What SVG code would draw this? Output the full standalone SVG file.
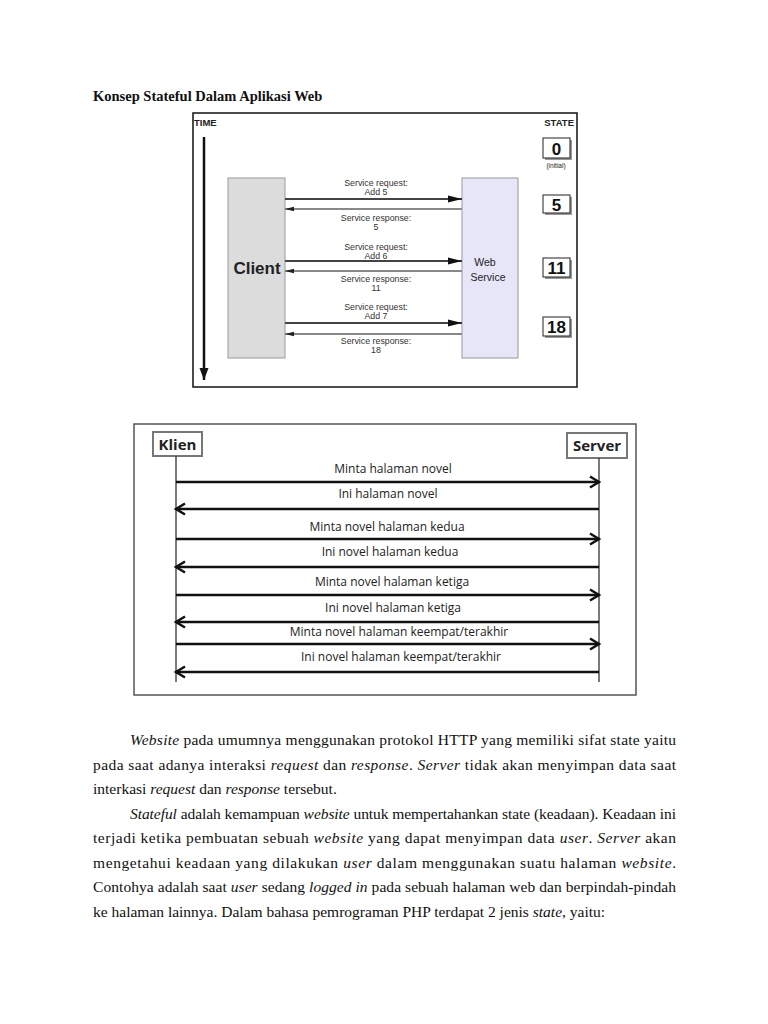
<svg xmlns="http://www.w3.org/2000/svg" width="768" height="1024" viewBox="0 0 768 1024">
<defs>
<style>
.title{font-family:"Liberation Serif","Times New Roman",serif;font-weight:bold;font-size:14.5px;fill:#111}
.para{font-family:"Liberation Serif","Times New Roman",serif;font-size:15.5px;fill:#111}
.it{font-style:italic}
.sans{font-family:"Liberation Sans",Arial,sans-serif;fill:#222}
.lbl1{font-family:"Liberation Sans",Arial,sans-serif;font-size:8.8px;fill:#333;text-anchor:middle}
.req{stroke:#444;stroke-width:2;fill:none}
.resp{stroke:#888;stroke-width:2;fill:none}
.stbox{fill:#fff;stroke:#222;stroke-width:1}
.stshadow{fill:#999}
.stnum{font-family:"Liberation Sans",Arial,sans-serif;font-weight:bold;font-size:17px;fill:#111;text-anchor:middle}
.lbl2{font-family:"Open Sans","Liberation Sans",sans-serif;font-size:12px;fill:#222;text-anchor:middle}
.msg{stroke:#111;stroke-width:2.5;fill:none}
.life{stroke:#333;stroke-width:1.3}
.actor{fill:#fff;stroke:#777;stroke-width:2}
.actortxt{font-family:"Open Sans","Liberation Sans",sans-serif;font-weight:bold;font-size:15px;fill:#222;text-anchor:middle}
</style>
<marker id="reqHead" markerUnits="userSpaceOnUse" markerWidth="14" markerHeight="10" viewBox="0 0 14 10" refX="14" refY="5" orient="auto"><path d="M0,1.5 L14,5 L0,8.5 Z" fill="#111"/></marker>
<marker id="respHead" markerUnits="userSpaceOnUse" markerWidth="9" markerHeight="6" viewBox="0 0 9 6" refX="9" refY="3" orient="auto"><path d="M0,0.8 L9,3 L0,5.2 Z" fill="#222"/></marker>
<marker id="timeHead" markerUnits="userSpaceOnUse" markerWidth="10" markerHeight="12" viewBox="0 0 10 12" refX="12" refY="5" orient="auto"><path d="M0,0.5 L12,5 L0,9.5 Z" fill="#111"/></marker>
<marker id="chev" markerUnits="userSpaceOnUse" markerWidth="16" markerHeight="16" viewBox="-2 -8 16 16" refX="11" refY="0" orient="auto" overflow="visible"><path d="M2,-5.5 L11,0 L2,5.5" fill="none" stroke="#111" stroke-width="2.5"/></marker>
</defs>
<rect x="0" y="0" width="768" height="1024" fill="#fff"/>

<text class="title" x="93" y="101">Konsep Stateful Dalam Aplikasi Web</text>

<!-- Diagram 1 -->
<g id="diagram1">
<rect x="193" y="113" width="384" height="274" fill="#fff" stroke="#111" stroke-width="1.5"/>
<text class="sans" x="194" y="126" font-size="9.5" font-weight="bold">TIME</text>
<text class="sans" x="574" y="126" font-size="9.5" font-weight="bold" text-anchor="end">STATE</text>
</g>
<g id="client">
<rect x="228" y="178" width="57" height="180" fill="#dcdcdc" stroke="#999" stroke-width="1"/>
<text class="sans" x="257" y="274" font-size="17" font-weight="bold" text-anchor="middle">Client</text>
</g>
<g id="webservice">
<rect x="462" y="178" width="56" height="180" fill="#e6e6f8" stroke="#999" stroke-width="1"/>
<text class="sans" x="485" y="266" font-size="10.5" text-anchor="middle">Web</text>
<text class="sans" x="488" y="281" font-size="10.5" text-anchor="middle">Service</text>
</g>
<g id="state0">
<rect class="stshadow" x="545" y="140" width="27" height="20"/>
<rect class="stbox" x="543" y="138" width="27" height="20"/>
<text class="stnum" x="556.5" y="155">0</text>
<text class="sans" x="556" y="168" font-size="6.5" text-anchor="middle">(initial)</text>
</g>
<g id="state5">
<rect class="stshadow" x="545" y="197" width="27" height="18"/>
<rect class="stbox" x="543" y="195" width="27" height="18"/>
<text class="stnum" x="556.5" y="210.5">5</text>
</g>
<g id="state11">
<rect class="stshadow" x="545" y="260" width="27" height="19"/>
<rect class="stbox" x="543" y="258" width="27" height="19"/>
<text class="stnum" x="556.5" y="274">11</text>
</g>
<g id="state18">
<rect class="stshadow" x="545" y="319" width="27" height="19"/>
<rect class="stbox" x="543" y="317" width="27" height="19"/>
<text class="stnum" x="556.5" y="333">18</text>
</g>
<g id="connectors1">
<line x1="204" y1="137" x2="204" y2="380" stroke="#111" stroke-width="2.5" marker-end="url(#timeHead)"/>
<line class="req" x1="285" y1="199" x2="462" y2="199" marker-end="url(#reqHead)"/>
<line class="resp" x1="462" y1="209" x2="285" y2="209" marker-end="url(#respHead)"/>
<line class="req" x1="285" y1="261" x2="462" y2="261" marker-end="url(#reqHead)"/>
<line class="resp" x1="462" y1="271" x2="285" y2="271" marker-end="url(#respHead)"/>
<line class="req" x1="285" y1="323" x2="462" y2="323" stroke="#777" marker-end="url(#reqHead)"/>
<line class="resp" x1="462" y1="334" x2="285" y2="334" marker-end="url(#respHead)"/>
<text class="lbl1" x="376" y="186">Service request:</text>
<text class="lbl1" x="376" y="195">Add 5</text>
<text class="lbl1" x="376" y="221">Service response:</text>
<text class="lbl1" x="376" y="230">5</text>
<text class="lbl1" x="376" y="249.5">Service request:</text>
<text class="lbl1" x="376" y="258.5">Add 6</text>
<text class="lbl1" x="376" y="282">Service response:</text>
<text class="lbl1" x="376" y="291">11</text>
<text class="lbl1" x="376" y="310">Service request:</text>
<text class="lbl1" x="376" y="319">Add 7</text>
<text class="lbl1" x="376" y="344">Service response:</text>
<text class="lbl1" x="376" y="353">18</text>
</g>

<!-- Diagram 2 -->
<g id="diagram2">
<rect x="134" y="424" width="502" height="271" fill="#fff" stroke="#555" stroke-width="1.5"/>
</g>
<g id="klien">
<rect class="actor" x="153" y="432" width="49" height="24"/>
<text class="actortxt" x="177.5" y="450">Klien</text>
</g>
<g id="server">
<rect class="actor" x="567" y="433" width="60" height="25"/>
<text class="actortxt" x="597" y="451">Server</text>
</g>
<g id="connectors2">
<line class="life" x1="176" y1="456" x2="176" y2="682"/>
<line class="life" x1="599" y1="458" x2="599" y2="682"/>
<line class="msg" x1="176" y1="482" x2="599" y2="482" marker-end="url(#chev)"/>
<line class="msg" x1="599" y1="509" x2="176" y2="509" marker-end="url(#chev)"/>
<line class="msg" x1="176" y1="539" x2="599" y2="539" marker-end="url(#chev)"/>
<line class="msg" x1="599" y1="567" x2="176" y2="567" marker-end="url(#chev)"/>
<line class="msg" x1="176" y1="595" x2="599" y2="595" marker-end="url(#chev)"/>
<line class="msg" x1="599" y1="622" x2="176" y2="622" marker-end="url(#chev)"/>
<line class="msg" x1="176" y1="644" x2="599" y2="644" marker-end="url(#chev)"/>
<line class="msg" x1="599" y1="672" x2="176" y2="672" marker-end="url(#chev)"/>
<text class="lbl2" x="393" y="473">Minta halaman novel</text>
<text class="lbl2" x="388" y="498">Ini halaman novel</text>
<text class="lbl2" x="387" y="531">Minta novel halaman kedua</text>
<text class="lbl2" x="390" y="556">Ini novel halaman kedua</text>
<text class="lbl2" x="392" y="586">Minta novel halaman ketiga</text>
<text class="lbl2" x="393" y="612">Ini novel halaman ketiga</text>
<text class="lbl2" x="399" y="636">Minta novel halaman keempat/terakhir</text>
<text class="lbl2" x="401" y="661">Ini novel halaman keempat/terakhir</text>
</g>

<!-- Paragraphs -->
<g id="body-text">
<text class="para" x="130" y="745" textLength="546" lengthAdjust="spacing"><tspan class="it">Website</tspan> pada umumnya menggunakan protokol HTTP yang memiliki sifat state yaitu</text>
<text class="para" x="93" y="770" textLength="583" lengthAdjust="spacing">pada saat adanya interaksi <tspan class="it">request</tspan> dan <tspan class="it">response</tspan>. <tspan class="it">Server</tspan> tidak akan menyimpan data saat</text>
<text class="para" x="93" y="794">interkasi <tspan class="it">request</tspan> dan <tspan class="it">response</tspan> tersebut.</text>
<text class="para" x="130" y="819" textLength="546" lengthAdjust="spacing"><tspan class="it">Stateful</tspan> adalah kemampuan <tspan class="it">website</tspan> untuk mempertahankan state (keadaan). Keadaan ini</text>
<text class="para" x="93" y="843" textLength="583" lengthAdjust="spacing">terjadi ketika pembuatan sebuah <tspan class="it">website</tspan> yang dapat menyimpan data <tspan class="it">user</tspan>. <tspan class="it">Server</tspan> akan</text>
<text class="para" x="93" y="868" textLength="583" lengthAdjust="spacing">mengetahui keadaan yang dilakukan <tspan class="it">user</tspan> dalam menggunakan suatu halaman <tspan class="it">website</tspan>.</text>
<text class="para" x="93" y="892" textLength="583" lengthAdjust="spacing">Contohya adalah saat <tspan class="it">user</tspan> sedang <tspan class="it">logged in</tspan> pada sebuah halaman web dan berpindah-pindah</text>
<text class="para" x="93" y="917">ke halaman lainnya. Dalam bahasa pemrograman PHP terdapat 2 jenis <tspan class="it">state</tspan>, yaitu:</text>
</g>
</svg>
